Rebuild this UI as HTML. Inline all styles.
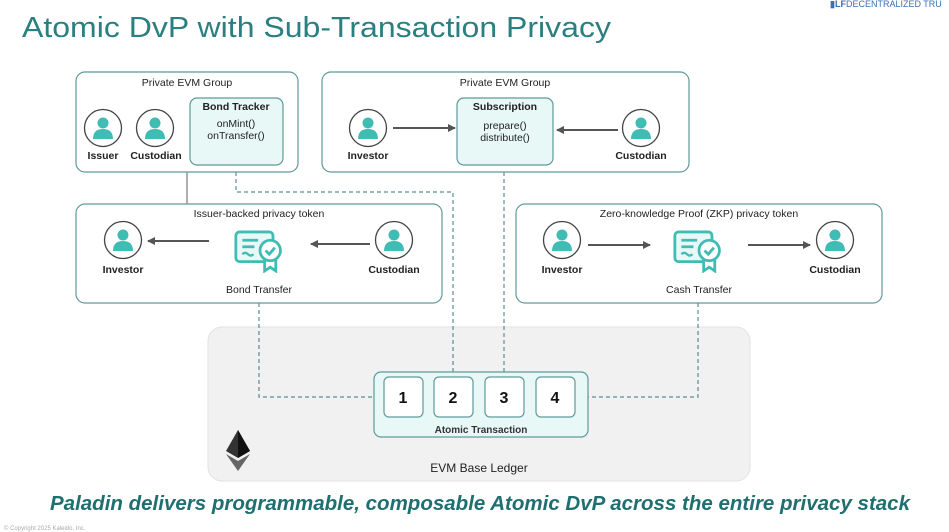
<!DOCTYPE html>
<html><head><meta charset="utf-8"><style>
html,body{margin:0;padding:0;background:#fff;}
svg{display:block;font-family:"Liberation Sans",sans-serif;}
</style></head><body>
<svg width="949" height="532" viewBox="0 0 949 532" xmlns="http://www.w3.org/2000/svg">
<defs>
<marker id="ah" markerWidth="8" markerHeight="8" refX="7" refY="4" orient="auto" markerUnits="userSpaceOnUse"><path d="M0,0 L8,4 L0,8 z" fill="#555"/></marker>
<symbol id="person" viewBox="-20 -20 40 40">
<circle cx="0" cy="0" r="18.5" fill="#fff" stroke="#444" stroke-width="1.3"/>
<circle cx="0" cy="-5" r="5.5" fill="#3fbcb4"/>
<path d="M-10,11 Q-10,1 0,1 Q10,1 10,11 z" fill="#3fbcb4"/>
</symbol>
<symbol id="cert" viewBox="0 0 56 48">
<rect x="2" y="4" width="40" height="32" rx="4" fill="#e8f8f7" stroke="#3fbcb4" stroke-width="3"/>
<line x1="9" y1="13" x2="26" y2="13" stroke="#3fbcb4" stroke-width="3"/>
<line x1="9" y1="20" x2="22" y2="20" stroke="#3fbcb4" stroke-width="3"/>
<path d="M9,28 q3,-3 6,0 t6,0" fill="none" stroke="#3fbcb4" stroke-width="2.5"/>
<path d="M33,32 v14 l6,-4 l6,4 v-14" fill="#fff" stroke="#3fbcb4" stroke-width="3"/>
<circle cx="39" cy="24" r="11" fill="#fff" stroke="#3fbcb4" stroke-width="3"/>
<path d="M34,24 l4,4 l6,-7" fill="none" stroke="#3fbcb4" stroke-width="3"/>
</symbol>
</defs>
<text x="830" y="7" font-size="9" fill="#3b6fb5" font-weight="bold">▮LF<tspan font-weight="normal">DECENTRALIZED TRU</tspan></text>
<text x="22" y="37" font-size="29" fill="#2a7f80" textLength="589" lengthAdjust="spacingAndGlyphs">Atomic DvP with Sub-Transaction Privacy</text>

<!-- ledger -->
<rect x="208" y="327" width="542" height="154" rx="14" fill="#f1f1f1" stroke="#e2e2e2"/>
<!-- connectors -->
<g fill="none" stroke="#5a8f8f" stroke-width="1.2" stroke-dasharray="4,3">
<path d="M236,165 V192 H453 V377"/>
<path d="M504,165 V377"/>
<path d="M259,303 V397 H384"/>
<path d="M698,303 V397 H575"/>
</g>
<line x1="187" y1="172" x2="187" y2="204" stroke="#777" stroke-width="1.2"/>

<!-- Box A -->
<rect x="76" y="72" width="222" height="100" rx="9" fill="#fff" stroke="#5e9a9a" stroke-width="1.2"/>
<text x="187" y="86" font-size="10.5" text-anchor="middle" fill="#222">Private EVM Group</text>
<use href="#person" x="83" y="108" width="40" height="40"/>
<use href="#person" x="135" y="108" width="40" height="40"/>
<text x="103" y="159" font-size="10.5" font-weight="bold" text-anchor="middle" fill="#222">Issuer</text>
<text x="156" y="159" font-size="10.5" font-weight="bold" text-anchor="middle" fill="#222">Custodian</text>
<rect x="190" y="98" width="93" height="67" rx="7" fill="#e8f8f7" stroke="#5e9a9a" stroke-width="1.2"/>
<text x="236" y="110" font-size="10.5" font-weight="bold" text-anchor="middle" fill="#222">Bond Tracker</text>
<text x="236" y="127" font-size="10.5" text-anchor="middle" fill="#222">onMint()</text>
<text x="236" y="139" font-size="10.5" text-anchor="middle" fill="#222">onTransfer()</text>

<!-- Box B -->
<rect x="322" y="72" width="367" height="100" rx="9" fill="#fff" stroke="#5e9a9a" stroke-width="1.2"/>
<text x="505" y="86" font-size="10.5" text-anchor="middle" fill="#222">Private EVM Group</text>
<use href="#person" x="348" y="108" width="40" height="40"/>
<use href="#person" x="621" y="108" width="40" height="40"/>
<text x="368" y="159" font-size="10.5" font-weight="bold" text-anchor="middle" fill="#222">Investor</text>
<text x="641" y="159" font-size="10.5" font-weight="bold" text-anchor="middle" fill="#222">Custodian</text>
<rect x="457" y="98" width="96" height="67" rx="7" fill="#e8f8f7" stroke="#5e9a9a" stroke-width="1.2"/>
<text x="505" y="110" font-size="10.5" font-weight="bold" text-anchor="middle" fill="#222">Subscription</text>
<text x="505" y="129" font-size="10.5" text-anchor="middle" fill="#222">prepare()</text>
<text x="505" y="141" font-size="10.5" text-anchor="middle" fill="#222">distribute()</text>
<line x1="393" y1="128" x2="455" y2="128" stroke="#555" stroke-width="2" marker-end="url(#ah)"/>
<line x1="618" y1="130" x2="557" y2="130" stroke="#555" stroke-width="2" marker-end="url(#ah)"/>

<!-- Box C -->
<rect x="76" y="204" width="366" height="99" rx="9" fill="#fff" stroke="#5e9a9a" stroke-width="1.2"/>
<text x="259" y="217" font-size="10.5" text-anchor="middle" fill="#222">Issuer-backed privacy token</text>
<use href="#person" x="103" y="220" width="40" height="40"/>
<use href="#person" x="374" y="220" width="40" height="40"/>
<text x="123" y="273" font-size="10.5" font-weight="bold" text-anchor="middle" fill="#222">Investor</text>
<text x="394" y="273" font-size="10.5" font-weight="bold" text-anchor="middle" fill="#222">Custodian</text>
<use href="#cert" x="234" y="228" width="52" height="45"/>
<text x="259" y="293" font-size="10.5" text-anchor="middle" fill="#222">Bond Transfer</text>
<line x1="209" y1="241" x2="148" y2="241" stroke="#555" stroke-width="2" marker-end="url(#ah)"/>
<line x1="370" y1="244" x2="311" y2="244" stroke="#555" stroke-width="2" marker-end="url(#ah)"/>

<!-- Box D -->
<rect x="516" y="204" width="366" height="99" rx="9" fill="#fff" stroke="#5e9a9a" stroke-width="1.2"/>
<text x="699" y="217" font-size="10.5" text-anchor="middle" fill="#222">Zero-knowledge Proof (ZKP) privacy token</text>
<use href="#person" x="542" y="220" width="40" height="40"/>
<use href="#person" x="815" y="220" width="40" height="40"/>
<text x="562" y="273" font-size="10.5" font-weight="bold" text-anchor="middle" fill="#222">Investor</text>
<text x="835" y="273" font-size="10.5" font-weight="bold" text-anchor="middle" fill="#222">Custodian</text>
<use href="#cert" x="673" y="228" width="52" height="45"/>
<text x="699" y="293" font-size="10.5" text-anchor="middle" fill="#222">Cash Transfer</text>
<line x1="588" y1="245" x2="650" y2="245" stroke="#555" stroke-width="2" marker-end="url(#ah)"/>
<line x1="748" y1="245" x2="810" y2="245" stroke="#555" stroke-width="2" marker-end="url(#ah)"/>

<!-- atomic -->
<rect x="374" y="372" width="214" height="65" rx="7" fill="#e8f8f7" stroke="#5e9a9a" stroke-width="1.2"/>
<g fill="#fff" stroke="#5e9a9a" stroke-width="1.2">
<rect x="384" y="377" width="39" height="40" rx="5"/>
<rect x="434" y="377" width="39" height="40" rx="5"/>
<rect x="485" y="377" width="39" height="40" rx="5"/>
<rect x="536" y="377" width="39" height="40" rx="5"/>
</g>
<g font-size="16" font-weight="bold" text-anchor="middle" fill="#111">
<text x="403" y="403">1</text><text x="453" y="403">2</text><text x="504" y="403">3</text><text x="555" y="403">4</text>
</g>
<text x="481" y="433" font-size="10" font-weight="bold" text-anchor="middle" fill="#333">Atomic Transaction</text>
<text x="479" y="472" font-size="12" text-anchor="middle" fill="#222">EVM Base Ledger</text>
<!-- eth -->
<path d="M238,430 L250,451 L238,458 L226,451 z" fill="#333"/>
<path d="M238,430 L250,451 L238,458 z" fill="#111"/>
<path d="M226,454 L238,461 L250,454 L238,471 z" fill="#666"/>

<text x="50" y="510" font-size="20" font-weight="bold" font-style="italic" fill="#1f6f70" textLength="860" lengthAdjust="spacingAndGlyphs">Paladin delivers programmable, composable Atomic DvP across the entire privacy stack</text>
<text x="4" y="530" font-size="6" fill="#aaa">© Copyright 2025 Kaleido, Inc.</text>
</svg>
</body></html>
